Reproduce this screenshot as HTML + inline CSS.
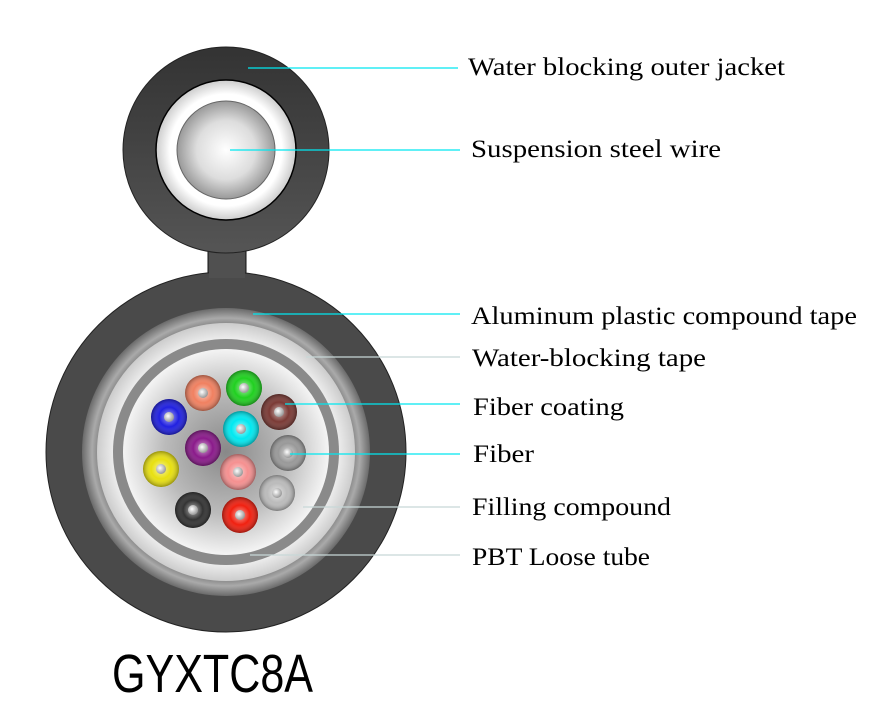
<!DOCTYPE html>
<html><head><meta charset="utf-8"><style>html,body{margin:0;padding:0;background:#fff}svg{display:block}</style></head>
<body>
<svg width="879" height="707" viewBox="0 0 879 707" xmlns="http://www.w3.org/2000/svg">
<defs>
<linearGradient id="jk" x1="0" y1="0" x2="0" y2="1"><stop offset="0" stop-color="#333"/><stop offset="1" stop-color="#555"/></linearGradient>
<radialGradient id="ball" cx="0.5" cy="0.5" r="0.5"><stop offset="0" stop-color="#fff"/><stop offset="0.6" stop-color="#ddd"/><stop offset="1" stop-color="#999"/></radialGradient>
<radialGradient id="wht" cx="0.5" cy="0.5" r="0.5"><stop offset="0.8" stop-color="#fff"/><stop offset="1" stop-color="#ccc"/></radialGradient>
<radialGradient id="ring" cx="0.5" cy="0.5" r="0.5"><stop offset="0.85" stop-color="#6a6a6a"/><stop offset="0.93" stop-color="#aaa"/><stop offset="1" stop-color="#6a6a6a"/></radialGradient>
<radialGradient id="fill" cx="0.5" cy="0.5" r="0.5"><stop offset="0" stop-color="#888"/><stop offset="0.6" stop-color="#bbb"/><stop offset="1" stop-color="#f4f4f4"/></radialGradient>
<radialGradient id="fib" cx="0.5" cy="0.5" r="0.5"><stop offset="0" stop-color="#fff" stop-opacity="0.6"/><stop offset="0.55" stop-color="#fff" stop-opacity="0"/><stop offset="1" stop-color="#000" stop-opacity="0.35"/></radialGradient>
<radialGradient id="core" cx="0.4" cy="0.4" r="0.6"><stop offset="0" stop-color="#fff"/><stop offset="1" stop-color="#999"/></radialGradient>
</defs>
<rect x="208" y="240" width="38" height="45" fill="#505050" stroke="#111" stroke-width="1"/>
<circle cx="226" cy="150" r="103" fill="url(#jk)" stroke="#222" stroke-width="1"/>
<circle cx="226" cy="150" r="70" fill="url(#wht)" stroke="#000" stroke-width="1.5"/>
<circle cx="226" cy="150" r="49" fill="url(#ball)" stroke="#666" stroke-width="1"/>
<circle cx="226" cy="452" r="180" fill="#4a4a4a" stroke="#222" stroke-width="1"/>
<rect x="209" y="268" width="36" height="10" fill="#505050"/>
<circle cx="226" cy="452" r="144" fill="url(#ring)"/>
<circle cx="226" cy="452" r="129" fill="url(#wht)"/>
<circle cx="226" cy="452" r="113" fill="#8a8a8a"/>
<circle cx="226" cy="452" r="103" fill="url(#fill)"/>
<g>
<g transform="translate(203,393)"><circle r="18" fill="#f08060"/><circle r="18" fill="url(#fib)"/><circle r="5" fill="url(#core)"/></g>
<g transform="translate(244,388)"><circle r="18" fill="#20d020"/><circle r="18" fill="url(#fib)"/><circle r="5" fill="url(#core)"/></g>
<g transform="translate(169,417)"><circle r="18" fill="#2020e0"/><circle r="18" fill="url(#fib)"/><circle r="5" fill="url(#core)"/></g>
<g transform="translate(279,412)"><circle r="18" fill="#7a3a35"/><circle r="18" fill="url(#fib)"/><circle r="5" fill="url(#core)"/></g>
<g transform="translate(241,429)"><circle r="18" fill="#00e8f0"/><circle r="18" fill="url(#fib)"/><circle r="5" fill="url(#core)"/></g>
<g transform="translate(203,448)"><circle r="18" fill="#8a1a8a"/><circle r="18" fill="url(#fib)"/><circle r="5" fill="url(#core)"/></g>
<g transform="translate(288,453)"><circle r="18" fill="#999"/><circle r="18" fill="url(#fib)"/><circle r="5" fill="url(#core)"/></g>
<g transform="translate(161,469)"><circle r="18" fill="#e8e010"/><circle r="18" fill="url(#fib)"/><circle r="5" fill="url(#core)"/></g>
<g transform="translate(238,472)"><circle r="18" fill="#f59090"/><circle r="18" fill="url(#fib)"/><circle r="5" fill="url(#core)"/></g>
<g transform="translate(277,493)"><circle r="18" fill="#bbb"/><circle r="18" fill="url(#fib)"/><circle r="5" fill="url(#core)"/></g>
<g transform="translate(193,510)"><circle r="18" fill="#333"/><circle r="18" fill="url(#fib)"/><circle r="5" fill="url(#core)"/></g>
<g transform="translate(240,515)"><circle r="18" fill="#f02010"/><circle r="18" fill="url(#fib)"/><circle r="5" fill="url(#core)"/></g>
</g>
<g stroke="#00e8f0" stroke-width="1.3">
<line x1="248" y1="68" x2="458" y2="68"/>
<line x1="230" y1="150" x2="460" y2="150"/>
<line x1="253" y1="314" x2="460" y2="314"/>
<line x1="306" y1="357" x2="460" y2="357" stroke="#c8d8d8"/>
<line x1="285" y1="404" x2="460" y2="404"/>
<line x1="290" y1="454" x2="460" y2="454"/>
<line x1="303" y1="507" x2="460" y2="507" stroke="#c8d8d8"/>
<line x1="250" y1="555" x2="460" y2="555" stroke="#c8d8d8"/>
</g>
<g font-family="Liberation Serif, serif" font-size="25" fill="#000" lengthAdjust="spacingAndGlyphs">
<text x="468" y="75" textLength="317" lengthAdjust="spacingAndGlyphs">Water blocking outer jacket</text>
<text x="471" y="157" textLength="250" lengthAdjust="spacingAndGlyphs">Suspension steel wire</text>
<text x="471" y="324" textLength="386" lengthAdjust="spacingAndGlyphs">Aluminum plastic compound tape</text>
<text x="472" y="366" textLength="234" lengthAdjust="spacingAndGlyphs">Water-blocking tape</text>
<text x="473" y="415" textLength="151" lengthAdjust="spacingAndGlyphs">Fiber coating</text>
<text x="473" y="462" textLength="61" lengthAdjust="spacingAndGlyphs">Fiber</text>
<text x="472" y="515" textLength="199" lengthAdjust="spacingAndGlyphs">Filling compound</text>
<text x="472" y="565" textLength="178" lengthAdjust="spacingAndGlyphs">PBT Loose tube</text>
</g>
<text x="112" y="692" font-family="Liberation Sans, sans-serif" font-size="54" textLength="201" lengthAdjust="spacingAndGlyphs" fill="#000">GYXTC8A</text>
</svg>
</body></html>
